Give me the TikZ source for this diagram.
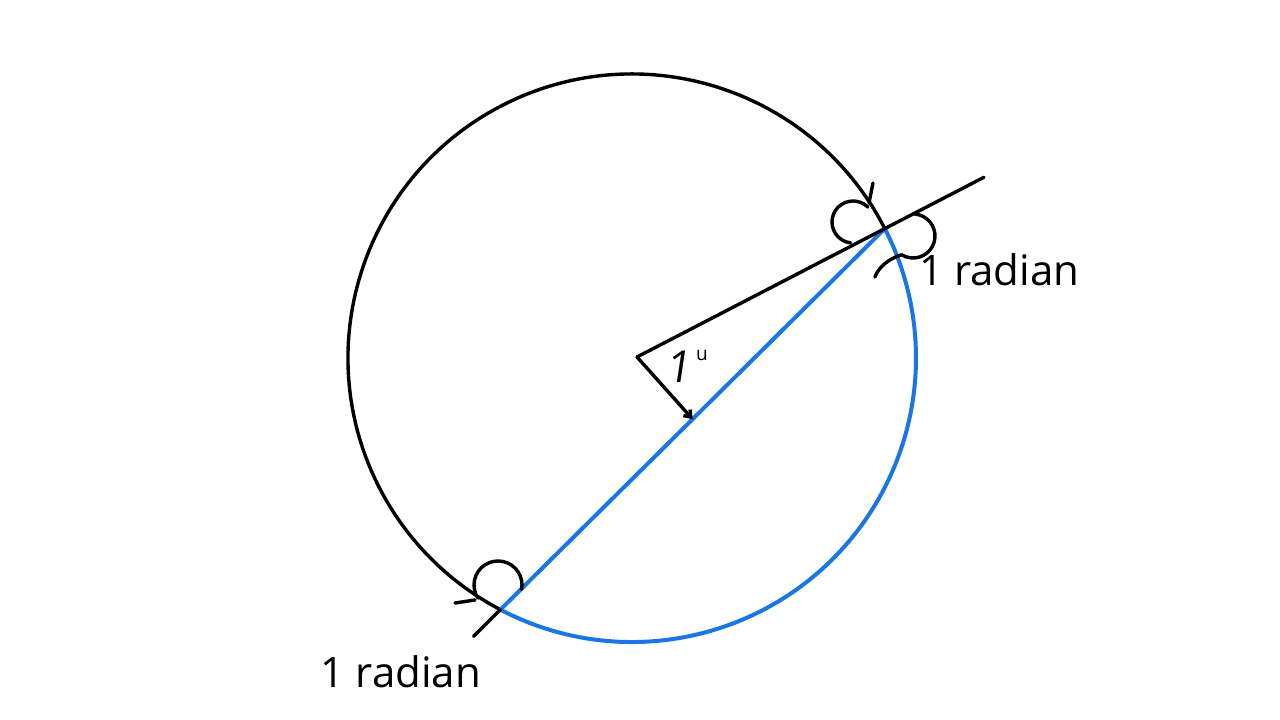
\documentclass[tikz,border=0pt]{standalone}
\usepackage{fontspec}
\setmainfont{Open Sans}
\usetikzlibrary{calc,arrows.meta}
\definecolor{myblue}{RGB}{25,118,228}
\begin{document}
\begin{tikzpicture}[x=1pt,y=1pt,
  blk/.style={line width=3.4pt,black,line cap=round,line join=round},
  blu/.style={line width=4pt,color=myblue,line cap=round,line join=round},
  lab/.style={font=\fontsize{42}{50}\selectfont,inner sep=0pt}]
\useasboundingbox (0,0) rectangle (1280,720);
\coordinate (O) at (632,362);
\coordinate (A) at ($(O)+(27.1:284)$);
\coordinate (B) at ($(O)+(242.4:284)$);
\coordinate (V) at (637,363);
\coordinate (M) at ($(A)!0.5!(B)$);
\coordinate (E) at ($(V)!1.4!(A)$);
\coordinate (F) at ($(A)!1.07!(B)$);
% circle arcs
\draw[blk] (A) arc[start angle=27.1,end angle=242.4,radius=284];
\draw[blu] (B) arc[start angle=242.4,end angle=387.1,radius=284];
\draw[blu] (B) -- (A);
\draw[blk] (V) -- (E);
\draw[blk] (B) -- (F);
\draw[blk,-{Straight Barb[length=6pt,width=9pt]}] (V) -- (M);
% arrow barbs on the circle
\coordinate (ta1) at (873,537); \coordinate (ta2) at (869,517);
\draw[blk] (ta1) -- (ta2);
\coordinate (tb1) at (455,117); \coordinate (tb2) at (475,120);
\draw[blk] (tb1) -- (tb2);
% angle loops
\coordinate (LB) at (498,135);
\draw[blk] ($(LB)+(213:24)$) arc[start angle=213,end angle=-11,radius=24];
\coordinate (LA) at (853,498);
\draw[blk] ($(LA)+(45:21)$) arc[start angle=45,end angle=263,radius=21];
\coordinate (RA) at (913,484);
\draw[blk] ($(RA)+(85:22)$) arc[start angle=85,end angle=-122,radius=22];
\coordinate (h1) at (901,465); \coordinate (h2) at (875,443);
\draw[blk] (h1) .. controls (888,461) and (878,452) .. (h2);
% labels
\node[lab] (l1) at (401,48) {1 radian};
\node[lab,anchor=west] (l2) at (919,450) {1 radian};
\node[inner sep=0pt,xslant=0.15] (ang) at (680,353) {\fontsize{44}{48}\selectfont 1};
\node[inner sep=0pt,anchor=west] (angu) at (696,364) {\fontsize{19}{21}\selectfont u};
\end{tikzpicture}
\end{document}
